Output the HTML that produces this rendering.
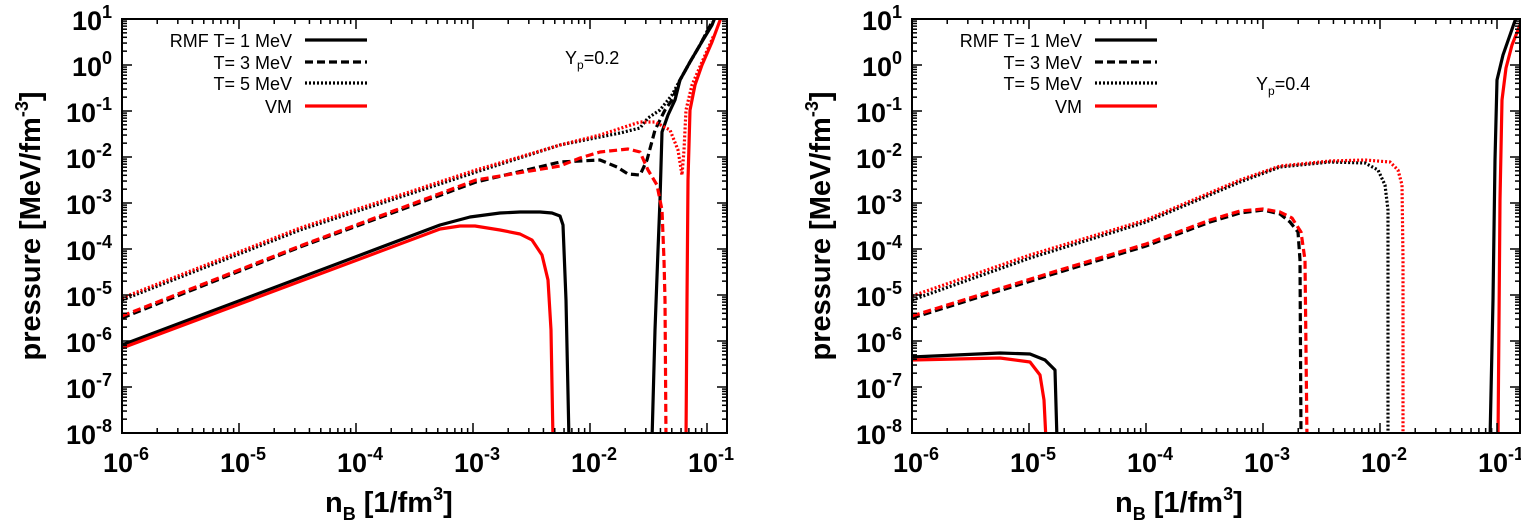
<!DOCTYPE html>
<html><head><meta charset="utf-8"><style>
body{margin:0;background:#fff}
svg{display:block}
text{font-family:"Liberation Sans",sans-serif;fill:#000}
.t{font-size:27px;font-weight:bold}
.s{font-size:18px;font-weight:bold}
.lg{font-size:18px}
.ax{font-size:29px;font-weight:bold}
</style></head><body>
<svg width="1521" height="525" viewBox="0 0 1521 525">
<defs>
<clipPath id="c1"><rect x="122" y="19" width="605" height="414"/></clipPath>
<clipPath id="c2"><rect x="912" y="19" width="608" height="414"/></clipPath>
</defs>
<g fill="none" stroke-width="3.2" stroke-linejoin="round">
<g clip-path="url(#c1)">
<polyline stroke="#000" points="122,345 440,225 470,217 500,213 520,212 540,212 552,213 560,216 563,225 566,300 569,440"/>
<polyline stroke="#000" points="652,440 655,330 658,250 660,200 662,132 668,115 675,100 680,80 690,62 700,45 712,25 718,10"/>
<polyline stroke="#f00" points="122,348 440,229 460,226 475,226 500,230 520,234 532,240 542,255 548,280 551,330 553,440"/>
<polyline stroke="#f00" points="686,440 687,300 688,180 690,110 695,85 702,65 712,42 722,15"/>
<polyline stroke="#000" stroke-dasharray="8,4" points="122,318 300,247 476,182 560,162 600,160 617,167 628,174 640,175 647,160 655,130 665,110 672,100 680,80 690,62 700,45 712,22"/>
<polyline stroke="#f00" stroke-dasharray="8,4" points="122,316 300,246 476,180 560,166 580,158 600,152 628,149 640,152 648,170 657,185 662,210 664,260 665,300 666,440"/>
<polyline stroke="#000" stroke-dasharray="2,2" points="122,300 300,230 476,172 560,145 620,133 640,128 648,118 660,110 672,95 680,80 690,62 700,45 712,22"/>
<polyline stroke="#f00" stroke-dasharray="2,2" points="122,298 300,228 476,170 560,145 600,135 640,122 655,122 670,130 678,150 682,175 684,150 686,110 692,85 702,62 714,35"/>
</g>
<g clip-path="url(#c2)">
<polyline stroke="#000" points="912,357 1000,353 1030,354 1045,360 1055,370 1057,440"/>
<polyline stroke="#000" points="1490,440 1493,300 1495,160 1497,80 1503,55 1510,35 1518,12"/>
<polyline stroke="#f00" points="912,360 1000,358 1030,362 1040,375 1044,400 1046,440"/>
<polyline stroke="#f00" points="1498,440 1500,200 1502,100 1506,68 1512,45 1522,20"/>
<polyline stroke="#000" stroke-dasharray="8,4" points="912,318 1050,275 1146,246 1210,222 1240,213 1263,210 1280,214 1290,222 1298,232 1300,260 1301,440"/>
<polyline stroke="#f00" stroke-dasharray="8,4" points="912,316 1050,273 1146,244 1210,220 1240,211 1263,209 1280,212 1292,218 1301,232 1305,260 1307,440"/>
<polyline stroke="#000" stroke-dasharray="2,2" points="912,300 1030,258 1146,222 1240,182 1280,167 1330,162 1365,163 1378,170 1385,185 1388,210 1388,440"/>
<polyline stroke="#f00" stroke-dasharray="2,2" points="912,296 1030,255 1146,220 1240,180 1280,166 1330,161 1365,160 1390,162 1398,170 1402,185 1403,260 1403,440"/>
</g>
<line x1="305" y1="40" x2="367" y2="40" stroke="#000"/>
<line x1="305" y1="62" x2="367" y2="62" stroke="#000" stroke-dasharray="8,4"/>
<line x1="305" y1="83" x2="367" y2="83" stroke="#000" stroke-dasharray="2,2"/>
<line x1="305" y1="106" x2="367" y2="106" stroke="#f00"/>
<line x1="1095" y1="40" x2="1157" y2="40" stroke="#000"/>
<line x1="1095" y1="62" x2="1157" y2="62" stroke="#000" stroke-dasharray="8,4"/>
<line x1="1095" y1="83" x2="1157" y2="83" stroke="#000" stroke-dasharray="2,2"/>
<line x1="1095" y1="106" x2="1157" y2="106" stroke="#f00"/>
</g>
<g class="lg" text-anchor="end">
<text x="292" y="47">RMF T= 1 MeV</text><text x="292" y="69">T= 3 MeV</text><text x="292" y="90">T= 5 MeV</text><text x="292" y="113">VM</text>
<text x="1082" y="47">RMF T= 1 MeV</text><text x="1082" y="69">T= 3 MeV</text><text x="1082" y="90">T= 5 MeV</text><text x="1082" y="113">VM</text>
</g>
<text class="lg" x="565" y="64">Y<tspan font-size="12" dy="5">p</tspan><tspan dy="-5">=0.2</tspan></text>
<text class="lg" x="1256" y="90">Y<tspan font-size="12" dy="5">p</tspan><tspan dy="-5">=0.4</tspan></text>
<g fill="none" stroke="#000" stroke-width="2">
<rect x="122" y="19" width="605" height="414"/>
<rect x="912" y="19" width="608" height="414"/>
</g>
<g id="ticks" stroke="#000" stroke-width="1.5"></g>
<g id="labels"></g>
<text class="ax" transform="translate(40,226) rotate(-90)" text-anchor="middle">pressure  [MeV/fm<tspan class="s" dy="-12">-3</tspan><tspan dy="12">]</tspan></text>
<text class="ax" transform="translate(830,226) rotate(-90)" text-anchor="middle">pressure  [MeV/fm<tspan class="s" dy="-12">-3</tspan><tspan dy="12">]</tspan></text>
<text class="ax" x="325" y="512">n<tspan class="s" dy="8">B</tspan><tspan dy="-8"> [1/fm</tspan><tspan class="s" dy="-12">3</tspan><tspan dy="12">]</tspan></text>
<text class="ax" x="1115" y="512">n<tspan class="s" dy="8">B</tspan><tspan dy="-8"> [1/fm</tspan><tspan class="s" dy="-12">3</tspan><tspan dy="12">]</tspan></text>
<script>
var ns="http://www.w3.org/2000/svg",tk=document.getElementById("ticks"),lb=document.getElementById("labels");
function ln(a,b,c,d){var l=document.createElementNS(ns,"line");l.setAttribute("x1",a);l.setAttribute("y1",b);l.setAttribute("x2",c);l.setAttribute("y2",d);tk.appendChild(l);}
function lab(x,y,e,anc){
 var t=document.createElementNS(ns,"text");t.setAttribute("class","t");t.setAttribute("x",x);t.setAttribute("y",y);
 if(anc)t.setAttribute("text-anchor",anc);
 t.appendChild(document.createTextNode("10"));
 var s=document.createElementNS(ns,"tspan");s.setAttribute("class","s");s.setAttribute("dy","-12");s.appendChild(document.createTextNode(String(e)));
 t.appendChild(s);lb.appendChild(t);}
[[122,727],[912,1520]].forEach(function(p){
 var L=p[0],R=p[1];
 for(var d=0;d<9;d++){for(var m=1;m<10;m++){var y=19+46*(d+1-Math.log10(m));if(y<19||y>433)continue;var len=m==1?10:5;ln(L,y,L+len,y);ln(R,y,R-len,y);}}
 for(var i=0;i<=9;i++){var e=1-i;lab(L-10,19+46*i+11,e,"end");}
 for(var d=0;d<6;d++){for(var m=1;m<10;m++){var x=L+117*(d+Math.log10(m));if(x>R)continue;var len=m==1?10:5;ln(x,433,x,433-len);ln(x,19,x,19+len);}}
 for(var d=0;d<6;d++){lab(L+117*d+4,472,-6+d,"middle");}
});
</script>
</svg>
</body></html>
